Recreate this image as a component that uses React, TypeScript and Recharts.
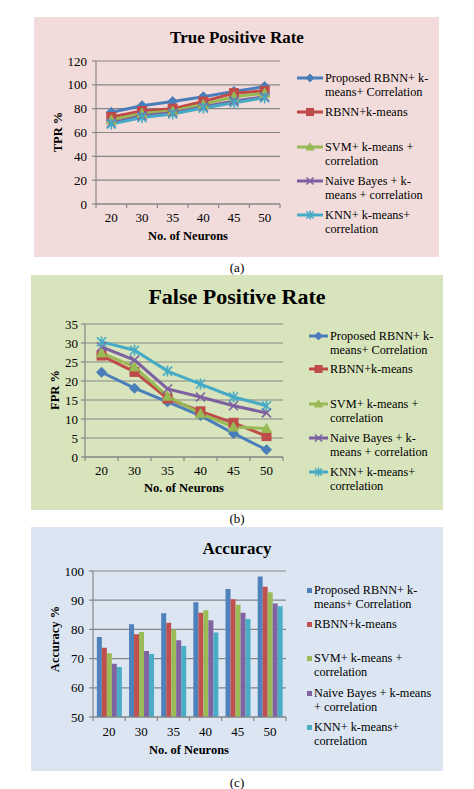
import React from 'react';
import { LineChart, Line, BarChart, Bar, XAxis, YAxis, CartesianGrid } from 'recharts';

// ---------- data ----------
const categories = ['20', '30', '35', '40', '45', '50'];

const tprProposed = [77, 82.5, 86, 90, 94.5, 98.5];
const tprRbnn = [73, 78, 80, 86, 93, 95];
const tprSvm = [70.5, 76, 78, 83.5, 90, 93];
const tprNb = [68, 74, 76.5, 81.5, 86.5, 90];
const tprKnn = [67, 72.5, 75.5, 80.5, 85, 89];

const fprProposed = [22.3, 18.1, 14.5, 10.9, 6.2, 1.9];
const fprRbnn = [26.7, 22.4, 15.4, 12, 9, 5.5];
const fprSvm = [27.4, 23.7, 16, 11.4, 7.9, 7.5];
const fprNb = [29, 25.5, 17.9, 15.8, 13.5, 11.6];
const fprKnn = [30.3, 28.1, 22.6, 19.2, 15.8, 13.5];

const accProposed = [77.4, 81.8, 85.5, 89.3, 93.8, 98.1];
const accRbnn = [73.7, 78.3, 82.3, 85.7, 90.3, 94.6];
const accSvm = [71.8, 79.1, 80, 86.6, 88.4, 92.7];
const accNb = [68.2, 72.6, 76.3, 83.1, 85.7, 88.9];
const accKnn = [67.1, 71.6, 74.3, 78.9, 83.6, 87.9];

const tprTicks = [0, 20, 40, 60, 80, 100, 120];
const fprTicks = [0, 5, 10, 15, 20, 25, 30, 35];
const accTicks = [50, 60, 70, 80, 90, 100];

const seriesKeys = ['proposed', 'rbnn', 'svm', 'nb', 'knn'];
const lineColors = ['#4A7EBB', '#BE4B48', '#98B954', '#7D60A0', '#46AAC5'];
const barColors = ['#4F81BD', '#C0504D', '#9BBB59', '#8064A2', '#4BACC6'];
const markerShapes = ['diamond', 'square', 'triangle', 'cross', 'star'];

const legendLinesLine = [
  ['Proposed RBNN+ k-', 'means+ Correlation'],
  ['RBNN+k-means'],
  ['SVM+ k-means +', 'correlation'],
  ['Naive Bayes + k-', 'means + correlation'],
  ['KNN+ k-means+', 'correlation'],
];
const legendLinesBar = [
  ['Proposed RBNN+ k-', 'means+ Correlation'],
  ['RBNN+k-means'],
  ['SVM+ k-means +', 'correlation'],
  ['Naive Bayes + k-means', '+ correlation'],
  ['KNN+ k-means+', 'correlation'],
];

const buildRows = (arrs: number[][]) =>
  categories.map((c, i) => {
    const row: any = { cat: c };
    seriesKeys.forEach((k, j) => (row[k] = arrs[j][i]));
    return row;
  });

const tprData = buildRows([tprProposed, tprRbnn, tprSvm, tprNb, tprKnn]);
const fprData = buildRows([fprProposed, fprRbnn, fprSvm, fprNb, fprKnn]);
const accData = buildRows([accProposed, accRbnn, accSvm, accNb, accKnn]);

// ---------- styles ----------
const SERIF = "'Liberation Serif', 'Times New Roman', serif";
const AXIS = '#868686';

const Marker = ({ shape, cx, cy, color, s = 4.5 }: any) => {
  if (cx == null || cy == null) return null;
  switch (shape) {
    case 'diamond':
      return (
        <polygon
          points={`${cx},${cy - s - 0.5} ${cx + s + 0.5},${cy} ${cx},${cy + s + 0.5} ${cx - s - 0.5},${cy}`}
          fill={color}
          stroke={color}
        />
      );
    case 'square':
      return <rect x={cx - s} y={cy - s} width={2 * s} height={2 * s} fill={color} stroke={color} />;
    case 'triangle':
      return (
        <polygon
          points={`${cx},${cy - s - 0.5} ${cx + s + 0.5},${cy + s - 0.5} ${cx - s - 0.5},${cy + s - 0.5}`}
          fill={color}
          stroke={color}
        />
      );
    case 'cross':
      return (
        <g stroke={color} strokeWidth={1.6}>
          <line x1={cx - s} y1={cy - s} x2={cx + s} y2={cy + s} />
          <line x1={cx - s} y1={cy + s} x2={cx + s} y2={cy - s} />
        </g>
      );
    case 'star':
      return (
        <g stroke={color} strokeWidth={1.6}>
          <line x1={cx - s} y1={cy - s} x2={cx + s} y2={cy + s} />
          <line x1={cx - s} y1={cy + s} x2={cx + s} y2={cy - s} />
          <line x1={cx} y1={cy - s - 1} x2={cx} y2={cy + s + 1} />
        </g>
      );
    default:
      return null;
  }
};

const makeXTick = (bw: number, tickMargin: number) => (props: any) => {
  const { x, y, payload } = props;
  const idx = props.index != null ? props.index : categories.indexOf(String(payload.value));
  const ay = y - tickMargin;
  return (
    <g>
      <line x1={x - bw / 2} x2={x - bw / 2} y1={ay} y2={ay + 4} stroke={AXIS} strokeWidth={1.2} />
      {idx === categories.length - 1 && (
        <line x1={x + bw / 2} x2={x + bw / 2} y1={ay} y2={ay + 4} stroke={AXIS} strokeWidth={1.2} />
      )}
      <text x={x} y={y} dy="0.71em" textAnchor="middle" fill="#000" fontSize={13} fontFamily={SERIF}>
        {payload.value}
      </text>
    </g>
  );
};

const CenterText = ({ x, y, children, size, bold, rotate }: any) => (
  <div
    style={{
      position: 'absolute',
      left: x,
      top: y,
      transform: `translate(-50%, -50%)${rotate ? ' rotate(-90deg)' : ''}`,
      fontFamily: SERIF,
      fontSize: size,
      fontWeight: bold ? 'bold' : 'normal',
      lineHeight: 1,
      whiteSpace: 'nowrap',
      color: '#000',
    }}
  >
    {children}
  </div>
);

const LineLegend = ({ left, textLeft, sampleRight, centers }: any) => (
  <>
    {seriesKeys.map((k, i) => {
      const cy = centers[i];
      const mid = (left + sampleRight) / 2;
      return (
        <React.Fragment key={k}>
          <svg
            style={{ position: 'absolute', left: 0, top: 0, overflow: 'visible' }}
            width={1}
            height={1}
          >
            <line x1={left} x2={sampleRight} y1={cy} y2={cy} stroke={lineColors[i]} strokeWidth={3} />
            <Marker shape={markerShapes[i]} cx={mid} cy={cy} color={lineColors[i]} s={3.5} />
          </svg>
          <div
            style={{
              position: 'absolute',
              left: textLeft,
              top: cy - 7,
              fontFamily: SERIF,
              fontSize: 12.3,
              lineHeight: '14px',
              whiteSpace: 'nowrap',
              color: '#000',
            }}
          >
            {legendLinesLine[i].map((t, j) => (
              <div key={j}>{t}</div>
            ))}
          </div>
        </React.Fragment>
      );
    })}
  </>
);

const BarLegend = ({ left, textLeft, centers }: any) => (
  <>
    {seriesKeys.map((k, i) => {
      const cy = centers[i];
      return (
        <React.Fragment key={k}>
          <div
            style={{
              position: 'absolute',
              left,
              top: cy - 2.5,
              width: 5,
              height: 5,
              background: barColors[i],
            }}
          />
          <div
            style={{
              position: 'absolute',
              left: textLeft,
              top: cy - 7,
              fontFamily: SERIF,
              fontSize: 12.3,
              lineHeight: '14px',
              whiteSpace: 'nowrap',
              color: '#000',
            }}
          >
            {legendLinesBar[i].map((t, j) => (
              <div key={j}>{t}</div>
            ))}
          </div>
        </React.Fragment>
      );
    })}
  </>
);

const yTick = { fill: '#000', fontSize: 13, fontFamily: SERIF };

const renderLines = (markerSize: number) =>
  seriesKeys.map((k, i) => (
    <Line
      key={k}
      dataKey={k}
      stroke={lineColors[i]}
      strokeWidth={3}
      isAnimationActive={false}
      activeDot={false}
      dot={(p: any) => (
        <Marker
          key={`${k}-${p.index}`}
          shape={markerShapes[i]}
          cx={p.cx}
          cy={p.cy}
          color={lineColors[i]}
          s={markerSize}
        />
      )}
    />
  ));

// ---------- panels ----------
const PanelA = () => {
  const W = 405;
  const H = 240;
  const bw = 184 / 6;
  return (
    <div style={{ position: 'absolute', left: 34, top: 17, width: W, height: H, background: '#F2DCDB' }}>
      <LineChart width={W} height={H} data={tprData} margin={{ top: 44, right: 159, bottom: 18, left: 0 }}>
        <CartesianGrid vertical={false} stroke={AXIS} strokeWidth={1.2} />
        <XAxis
          dataKey="cat"
          height={35}
          padding={{ left: bw / 2, right: bw / 2 }}
          interval={0}
          tickLine={false}
          tickSize={0}
          tickMargin={9}
          axisLine={{ stroke: AXIS, strokeWidth: 1.2 }}
          tick={makeXTick(bw, 9)}
        />
        <YAxis
          width={62}
          domain={[0, 120]}
          ticks={tprTicks}
          interval={0}
          tickSize={4}
          tickMargin={5}
          tickLine={{ stroke: AXIS, strokeWidth: 1.2 }}
          axisLine={{ stroke: AXIS, strokeWidth: 1.2 }}
          tick={yTick}
        />
        {renderLines(4.5)}
      </LineChart>
      <CenterText x={203} y={20} size={17} bold>
        True Positive Rate
      </CenterText>
      <CenterText x={24} y={115} size={12.5} bold rotate>
        TPR %
      </CenterText>
      <CenterText x={154} y={219} size={12.5} bold>
        No. of Neurons
      </CenterText>
      <LineLegend left={263} sampleRight={289} textLeft={291} centers={[61, 95, 130, 164, 198]} />
    </div>
  );
};

const PanelB = () => {
  const W = 412;
  const H = 235;
  const bw = 198 / 6;
  return (
    <div style={{ position: 'absolute', left: 31, top: 275, width: W, height: H, background: '#D8E4BC' }}>
      <LineChart width={W} height={H} data={fprData} margin={{ top: 49, right: 160, bottom: 18, left: 0 }}>
        <CartesianGrid vertical={false} stroke={AXIS} strokeWidth={1.2} />
        <XAxis
          dataKey="cat"
          height={35}
          padding={{ left: bw / 2, right: bw / 2 }}
          interval={0}
          tickLine={false}
          tickSize={0}
          tickMargin={9}
          axisLine={{ stroke: AXIS, strokeWidth: 1.2 }}
          tick={makeXTick(bw, 9)}
        />
        <YAxis
          width={54}
          domain={[0, 35]}
          ticks={fprTicks}
          interval={0}
          tickSize={4}
          tickMargin={3}
          tickLine={{ stroke: AXIS, strokeWidth: 1.2 }}
          axisLine={{ stroke: AXIS, strokeWidth: 1.2 }}
          tick={yTick}
        />
        {renderLines(4.5)}
      </LineChart>
      <CenterText x={206} y={22} size={22} bold>
        False Positive Rate
      </CenterText>
      <CenterText x={24} y={115} size={12.5} bold rotate>
        FPR %
      </CenterText>
      <CenterText x={153} y={213} size={12.5} bold>
        No. of Neurons
      </CenterText>
      <LineLegend left={278} sampleRight={297} textLeft={299} centers={[61, 94, 129, 163, 197]} />
    </div>
  );
};

const PanelC = () => {
  const W = 412;
  const H = 244;
  const bw = 193 / 6;
  return (
    <div style={{ position: 'absolute', left: 31, top: 527, width: W, height: H, background: '#DCE6F2' }}>
      <BarChart
        width={W}
        height={H}
        data={accData}
        margin={{ top: 44, right: 157, bottom: 19, left: 0 }}
        barCategoryGap="12%"
        barGap={0}
      >
        <CartesianGrid vertical={false} stroke={AXIS} strokeWidth={1.2} />
        <XAxis
          dataKey="cat"
          height={35}
          interval={0}
          tickLine={false}
          tickSize={0}
          tickMargin={10}
          axisLine={{ stroke: AXIS, strokeWidth: 1.2 }}
          tick={makeXTick(bw, 10)}
        />
        <YAxis
          width={62}
          domain={[50, 100]}
          ticks={accTicks}
          interval={0}
          tickSize={4}
          tickMargin={5}
          tickLine={{ stroke: AXIS, strokeWidth: 1.2 }}
          axisLine={{ stroke: AXIS, strokeWidth: 1.2 }}
          tick={yTick}
          allowDataOverflow
        />
        {seriesKeys.map((k, i) => (
          <Bar key={k} dataKey={k} fill={barColors[i]} isAnimationActive={false} />
        ))}
      </BarChart>
      <CenterText x={206} y={21} size={17} bold>
        Accuracy
      </CenterText>
      <CenterText x={24} y={112} size={12.5} bold rotate>
        Accuracy %
      </CenterText>
      <CenterText x={158} y={223} size={12.5} bold>
        No. of Neurons
      </CenterText>
      <BarLegend left={276} textLeft={283} centers={[63, 97, 131, 166, 200]} />
    </div>
  );
};

export default function App() {
  return (
    <div
      style={{
        position: 'absolute',
        left: 0,
        top: 0,
        width: 474,
        height: 789,
        background: '#ffffff',
        overflow: 'hidden',
      }}
    >
      <PanelA />
      <CenterText x={237} y={267} size={13}>
        (a)
      </CenterText>
      <PanelB />
      <CenterText x={237} y={518} size={13}>
        (b)
      </CenterText>
      <PanelC />
      <CenterText x={237} y={782} size={13}>
        (c)
      </CenterText>
    </div>
  );
}
